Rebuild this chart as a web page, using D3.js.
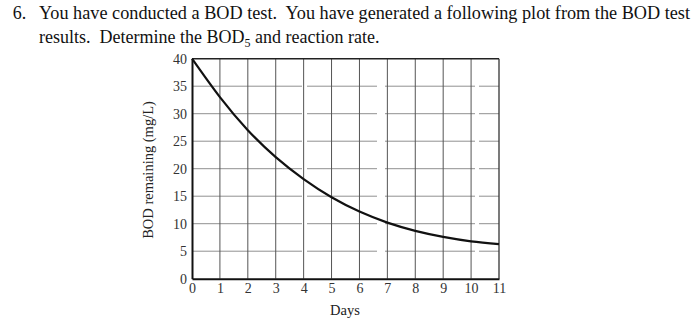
<!DOCTYPE html>
<html>
<head>
<meta charset="utf-8">
<script src="https://cdn.jsdelivr.net/npm/d3@7/dist/d3.min.js"></script>
<style>
  html, body { margin: 0; padding: 0; background: #fff; }
  svg { display: block; }
  text { font-family: "Liberation Serif", "Times New Roman", serif; }
</style>
</head>
<body>
<svg id="chart" width="700" height="323"></svg>
<script>
// BOD remaining over time
const days = [0, 1, 2, 3, 4, 5, 6, 7, 8, 9, 10, 11];
const bodRemaining = [40, 33.0, 27.0, 22.1, 18.1, 14.8, 12.2, 10.2, 8.7, 7.6, 6.8, 6.3];
const xTicks = [0, 1, 2, 3, 4, 5, 6, 7, 8, 9, 10, 11];
const yTicks = [0, 5, 10, 15, 20, 25, 30, 35, 40];

const svg = d3.select("#chart");

const x = d3.scaleLinear().domain([0, 11]).range([192, 499]);
const y = d3.scaleLinear().domain([0, 40]).range([278.7, 58.7]);

// Question text
const q = svg.append("g").attr("fill", "#111").style("font-size", "18px");
q.append("text").attr("x", 12.7).attr("y", 19).text("6.");
q.append("text").attr("x", 39).attr("y", 19).attr("xml:space", "preserve")
  .attr("textLength", 651).attr("lengthAdjust", "spacingAndGlyphs")
  .text("You have conducted a BOD test.  You have generated a following plot from the BOD test");
const l2 = q.append("text").attr("x", 39).attr("y", 42.7).attr("xml:space", "preserve");
l2.append("tspan").text("results.  Determine the BOD");
l2.append("tspan").attr("dy", 4).style("font-size", "12px").text("5");
l2.append("tspan").attr("dy", -4).text(" and reaction rate.");

// Horizontal grid lines
svg.append("g").selectAll("line")
  .data(yTicks.filter(v => v > 0 && v < 40))
  .join("line")
  .attr("x1", x(0)).attr("x2", x(11))
  .attr("y1", d => y(d)).attr("y2", d => y(d))
  .attr("stroke", "#909090").attr("stroke-width", 1)
  .attr("stroke-dasharray", "110,5,70,8,90,4");

// Vertical grid lines
svg.append("g").selectAll("line")
  .data(xTicks.filter(v => v > 0 && v < 11))
  .join("line")
  .attr("x1", d => x(d)).attr("x2", d => x(d))
  .attr("y1", y(40)).attr("y2", y(0))
  .attr("stroke", "#555").attr("stroke-width", 1);

// Frame: top and right edges
svg.append("line").attr("x1", x(0)).attr("x2", x(11)).attr("y1", y(40)).attr("y2", y(40))
  .attr("stroke", "#222").attr("stroke-width", 1.6);
svg.append("line").attr("x1", x(11)).attr("x2", x(11)).attr("y1", y(40)).attr("y2", y(0))
  .attr("stroke", "#333").attr("stroke-width", 1.3);

// Axes
const yAxis = svg.append("g").attr("transform", `translate(${x(0)},0)`)
  .call(d3.axisLeft(y).tickValues(yTicks).tickSize(0).tickPadding(5));
const xAxis = svg.append("g").attr("transform", `translate(0,${y(0)})`)
  .call(d3.axisBottom(x).tickValues(xTicks).tickSize(0).tickPadding(4));
[yAxis, xAxis].forEach(g => {
  g.select(".domain").attr("stroke", "#111").attr("stroke-width", 2);
  g.selectAll("text").attr("fill", "#333")
    .style("font-family", "'Liberation Serif', serif").style("font-size", "14px");
});

// Decay curve
svg.append("path")
  .datum(days.map((d, i) => [d, bodRemaining[i]]))
  .attr("fill", "none").attr("stroke", "#111").attr("stroke-width", 2.2)
  .attr("d", d3.line().x(d => x(d[0])).y(d => y(d[1])).curve(d3.curveNatural));

// Axis titles
svg.append("text")
  .attr("transform", `translate(153,170) rotate(-90)`)
  .attr("text-anchor", "middle").attr("fill", "#222").style("font-size", "14.5px")
  .text("BOD remaining (mg/L)");
svg.append("text")
  .attr("x", 345).attr("y", 315).attr("text-anchor", "middle")
  .attr("fill", "#222").style("font-size", "14.5px").text("Days");
</script>
</body>
</html>
